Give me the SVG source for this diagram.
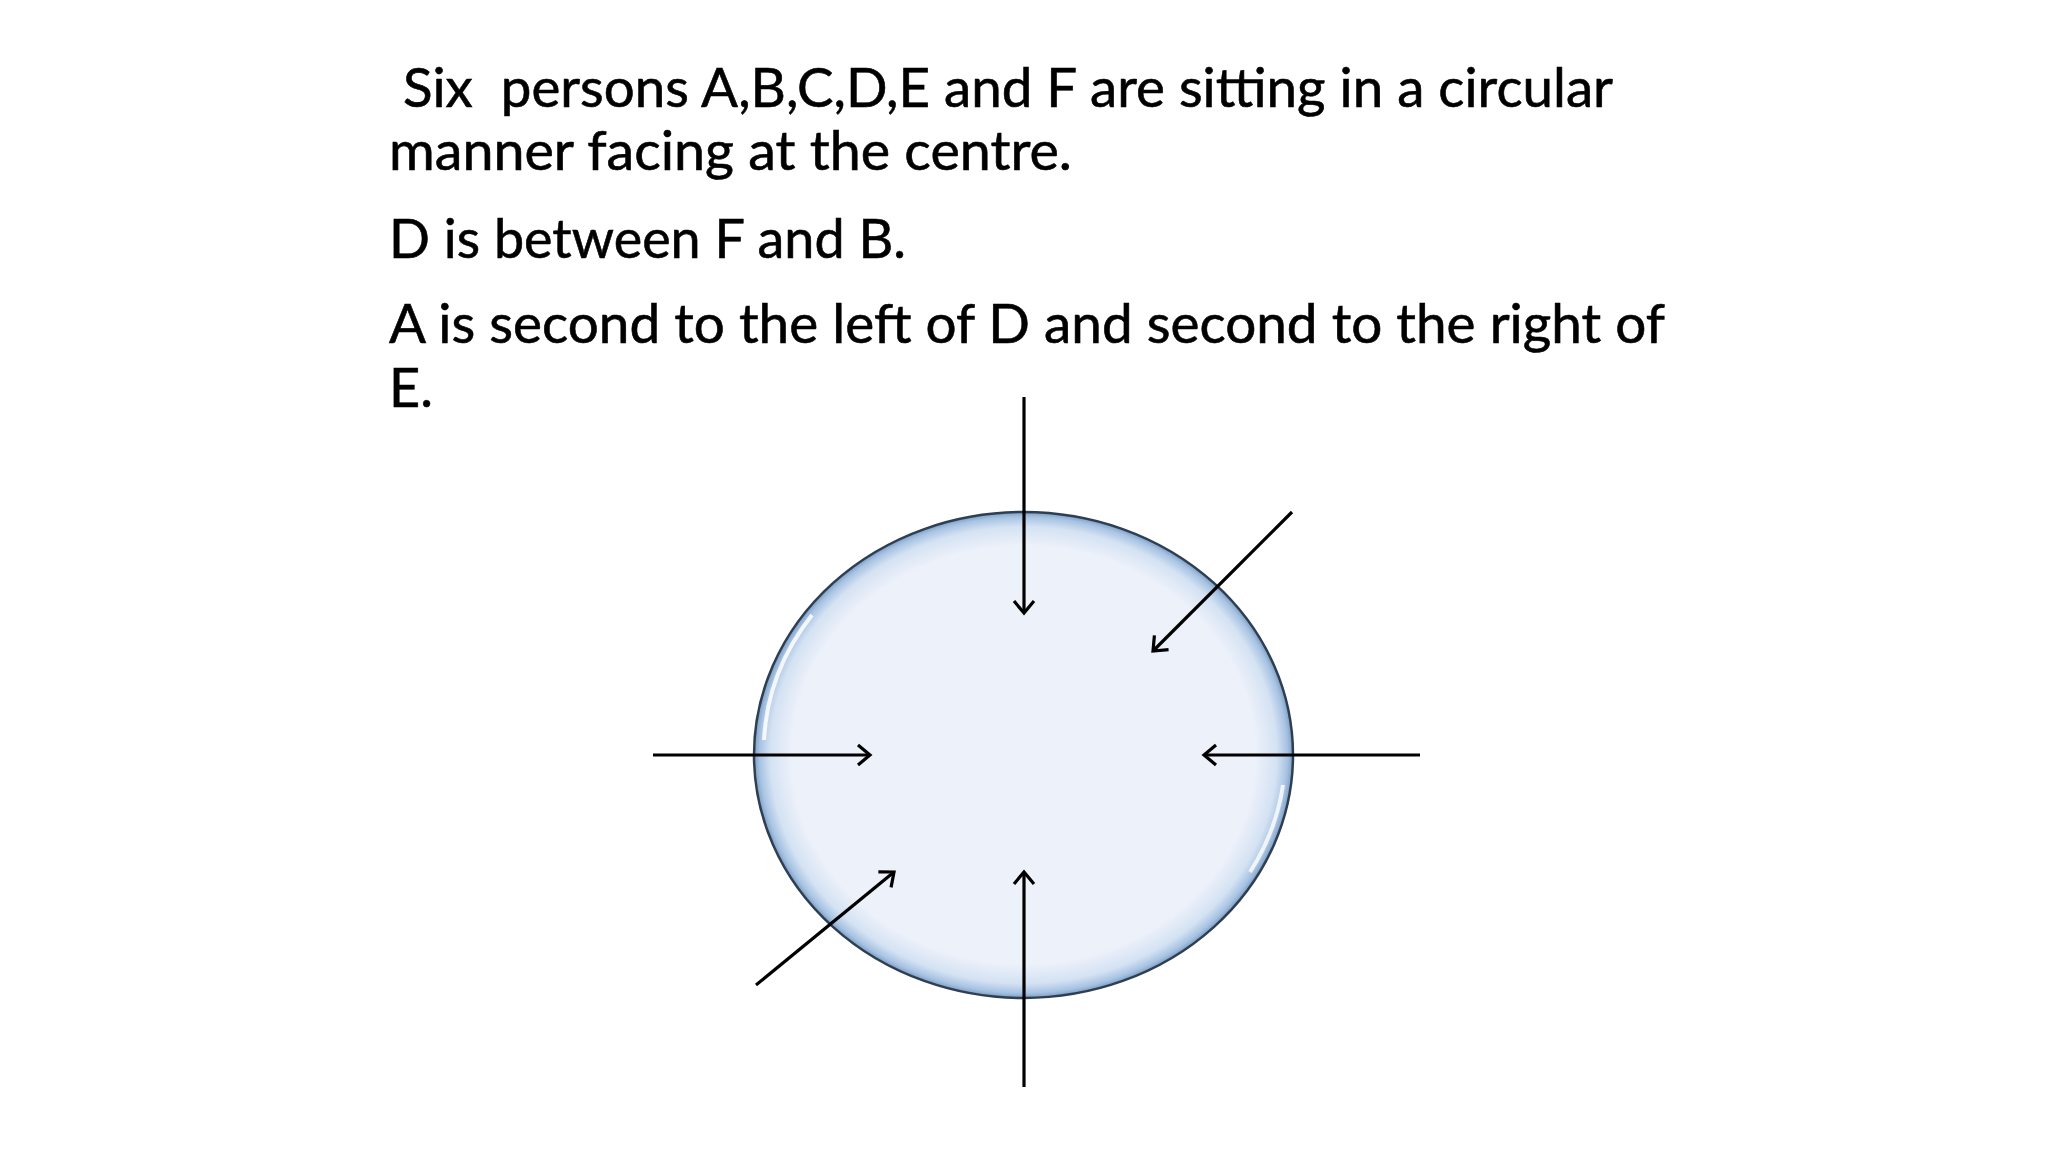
<svg xmlns="http://www.w3.org/2000/svg" width="2048" height="1152" viewBox="0 0 2048 1152">
<style>
.t{font-family:Lato,"Open Sans","Liberation Sans",sans-serif;font-size:54px;fill:#000;white-space:pre;stroke:#000;stroke-width:0.6}
.c{stroke:#000;stroke-width:3.2;fill:none;marker-end:url(#ah)}
</style>
<defs>
<radialGradient id="g" cx="50%" cy="50%" r="50%">
<stop offset="0" stop-color="#EDF1FA"/>
<stop offset="0.86" stop-color="#EDF1FA"/>
<stop offset="0.94" stop-color="#D4E2F3"/>
<stop offset="0.98" stop-color="#A6C2E2"/>
<stop offset="1" stop-color="#7D9DC4"/>
</radialGradient>
<marker id="ah" markerUnits="userSpaceOnUse" markerWidth="26" markerHeight="26" viewBox="0 0 26 26" refX="22" refY="13" orient="auto">
<path d="M10,3 L22,13 L10,23" fill="none" stroke="#000" stroke-width="3.2"/>
</marker>
</defs>
<rect width="2048" height="1152" fill="#fff"/>
<g id="text">
<text class="t" x="389" y="107" textLength="1224" lengthAdjust="spacingAndGlyphs"> Six  persons A,B,C,D,E and F are sitting in a circular</text>
<text class="t" x="389" y="170" textLength="683" lengthAdjust="spacingAndGlyphs">manner facing at the centre.</text>
<text class="t" x="389" y="258" textLength="517" lengthAdjust="spacingAndGlyphs">D is between F and B.</text>
<text class="t" x="389" y="343" textLength="1276" lengthAdjust="spacingAndGlyphs">A is second to the left of D and second to the right of</text>
<text class="t" x="389" y="407">E.</text>
</g>
<g id="table">
<ellipse cx="1023.5" cy="755" rx="269.5" ry="243" fill="url(#g)" stroke="#2F3F52" stroke-width="2.5"/>
<path d="M812,615 A261,235 0 0 0 764,740" fill="none" stroke="#fff" stroke-width="4" stroke-opacity="0.85"/>
<path d="M1283,785 A261,235 0 0 1 1250,872" fill="none" stroke="#fff" stroke-width="4" stroke-opacity="0.8"/>
</g>
<g id="connectors">
<line class="c" x1="1024" y1="397" x2="1024" y2="613"/>
<line class="c" x1="1292" y1="512" x2="1153" y2="651"/>
<line class="c" x1="1420" y1="755" x2="1204" y2="755"/>
<line class="c" x1="653" y1="755" x2="870" y2="755"/>
<line class="c" x1="756" y1="985" x2="894" y2="872"/>
<line class="c" x1="1024" y1="1087" x2="1024" y2="872"/>
</g>
</svg>
